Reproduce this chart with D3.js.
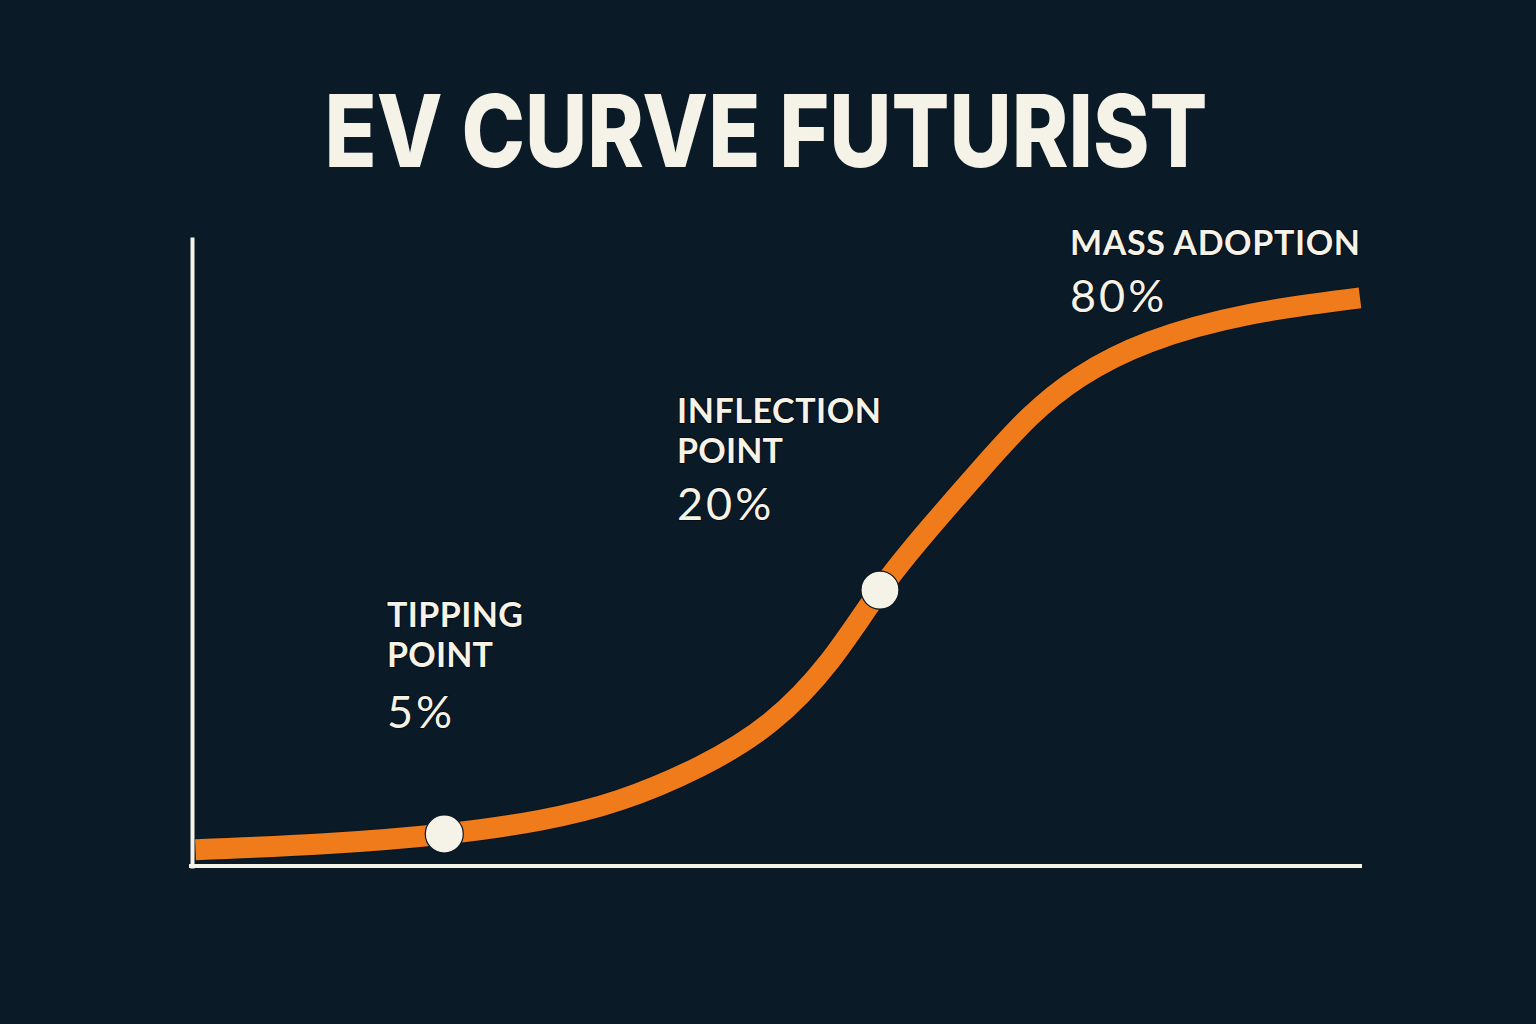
<!DOCTYPE html>
<html>
<head>
<meta charset="utf-8">
<script src="https://cdn.jsdelivr.net/npm/d3@7"></script>
<style>
  html, body { margin: 0; padding: 0; background: #0b1a27; }
  svg { display: block; }
</style>
</head>
<body>
<svg id="chart" width="1536" height="1024"></svg>
<script>
// ---- data (abstract time index 0..100, adoption index 0..100) ----
const curveX = [0.3, 11.0, 21.6, 29.8, 36.6, 43.5, 49.5, 54.6, 58.9, 63.2, 67.5, 71.7, 76.0, 82.0, 90.6, 100];
const curveY = [2.6, 3.5, 5.1, 7.3, 10.5, 15.9, 22.9, 32.7, 44.0, 54.0, 63.2, 71.6, 78.0, 83.6, 88.0, 90.6];

const markerX = [21.6, 58.9];
const markerY = [5.1, 44.0];

const labelTitles = [["TIPPING", "POINT"], ["INFLECTION", "POINT"], ["MASS ADOPTION"]];
const labelValues = ["5%", "20%", "80%"];

const title = "EV CURVE FUTURIST";

// ---- layout ----
const cream = "#f5f2e8";
const orange = "#ef7b1b";
const bg = "#0b1a27";

const svg = d3.select("#chart");
svg.append("rect").attr("width", 1536).attr("height", 1024).attr("fill", bg);

const x = d3.scaleLinear().domain([0, 100]).range([192, 1360]);
const y = d3.scaleLinear().domain([0, 100]).range([866, 239]);

// title
svg.append("text")
  .attr("x", 766).attr("y", 167)
  .attr("text-anchor", "middle")
  .attr("font-family", "Inter, 'Open Sans', sans-serif")
  .attr("font-weight", 800)
  .attr("font-size", 101)
  .attr("textLength", 883)
  .attr("lengthAdjust", "spacingAndGlyphs")
  .attr("fill", cream)
  .text(title);

// axes (no ticks)
const yAxis = d3.axisLeft(y).tickValues([]).tickSizeOuter(0);
const xAxis = d3.axisBottom(x).tickValues([]).tickSizeOuter(0);
const gy = svg.append("g").attr("transform", `translate(${x(0)},0)`).call(yAxis);
const gx = svg.append("g").attr("transform", `translate(0,${y(0)})`).call(xAxis);
[gx, gy].forEach(g => g.select(".domain")
  .attr("stroke", cream).attr("stroke-width", 4).attr("stroke-linecap", "square"));
gx.select(".domain").attr("d", `M${x(0) - 1},0H${x(100)}`);

// curve
const pts = curveX.map((v, i) => [v, curveY[i]]);
const line = d3.line().x(d => x(d[0])).y(d => y(d[1])).curve(d3.curveNatural);
svg.append("path")
  .datum(pts)
  .attr("d", line)
  .attr("fill", "none")
  .attr("stroke", "#08121c")
  .attr("stroke-width", 23)
  .attr("stroke-opacity", 0.5);
svg.append("path")
  .datum(pts)
  .attr("d", line)
  .attr("fill", "none")
  .attr("stroke", orange)
  .attr("stroke-width", 21)
  .attr("stroke-linecap", "butt");

// markers
svg.selectAll("circle.marker")
  .data(markerX.map((v, i) => [v, markerY[i]]))
  .join("circle")
  .attr("class", "marker")
  .attr("cx", d => x(d[0]))
  .attr("cy", d => y(d[1]))
  .attr("r", 19)
  .attr("fill", cream)
  .attr("stroke", "#0a1620")
  .attr("stroke-width", 1.2);

// labels
const labelPos = [
  { x: 387, y: 627, w: [136, 106], vy: 728 },
  { x: 677, y: 423, w: [204, 106], vy: 520 },
  { x: 1070, y: 255, w: [290], vy: 312 }
];
const labelFont = "Lato, 'Open Sans', sans-serif";

labelTitles.forEach((lines, i) => {
  const p = labelPos[i];
  lines.forEach((t, j) => {
    svg.append("text")
      .attr("x", p.x).attr("y", p.y + j * 40)
      .attr("font-family", labelFont)
      .attr("font-weight", 700)
      .attr("font-size", 34)
      .attr("textLength", p.w[j])
      .attr("lengthAdjust", "spacing")
      .attr("fill", cream)
      .attr("stroke", "#050c12")
      .attr("stroke-width", 2)
      .attr("paint-order", "stroke")
      .text(t);
  });
  svg.append("text")
    .attr("x", p.x).attr("y", p.vy)
    .attr("font-family", labelFont)
    .attr("font-weight", 400)
    .attr("font-size", 45)
    .attr("letter-spacing", 3)
    .attr("fill", cream)
    .attr("stroke", "#050c12")
    .attr("stroke-width", 1.5)
    .attr("paint-order", "stroke")
    .text(labelValues[i]);
});
</script>
</body>
</html>
